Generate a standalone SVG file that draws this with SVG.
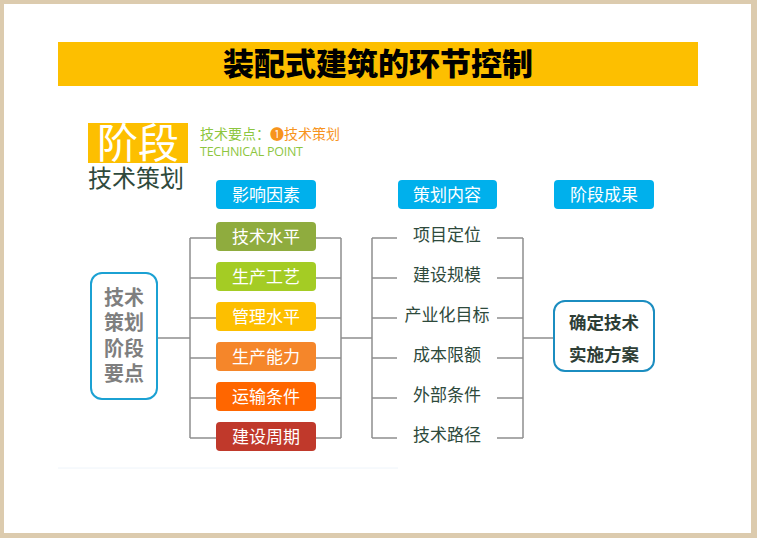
<svg xmlns="http://www.w3.org/2000/svg" width="757" height="538" viewBox="0 0 757 538">
<style>
.cjk{font-family:"Noto Sans CJK SC","Noto Sans",sans-serif;}
.hdr{fill:#00b0ec;}
.hdrt{fill:#fff;font-size:17px;text-anchor:middle;}
.ft{fill:#fff;font-size:17px;text-anchor:middle;}
.mt{fill:#2e4a3c;font-size:17px;text-anchor:middle;}
.ln{stroke:#8e8e8e;stroke-width:1.5;fill:none;}
</style>
<rect x="0" y="0" width="757" height="538" fill="#dccbae"/>
<rect x="4" y="4" width="747" height="529" fill="#ffffff"/>
<rect x="58" y="42" width="640" height="44" fill="#fdbf00"/>
<text x="378" y="75" class="cjk" font-size="31" font-weight="900" text-anchor="middle" fill="#000">装配式建筑的环节控制</text>
<rect x="88" y="123" width="100" height="40" fill="#fdbf00"/>
<text x="138" y="158" class="cjk" font-size="41" text-anchor="middle" fill="#fff">阶段</text>
<text x="136" y="187" class="cjk" font-size="24" text-anchor="middle" fill="#2f4a3c">技术策划</text>
<text x="200" y="139" class="cjk" font-size="14"><tspan fill="#8dc63f">技术要点：</tspan><tspan fill="#f7941d">❶技术策划</tspan></text>
<text x="200" y="156" font-family="'Open Sans','Noto Sans',sans-serif" font-size="12.5" fill="#8dc63f" textLength="103">TECHNICAL POINT</text>
<line x1="58" y1="468" x2="398" y2="468" stroke="#eef4fa" stroke-width="1"/>
<g id="connectors">
<path class="ln" d="M157 338H190M190 238V438M190 238H216M190 278H216M190 318H216M190 358H216M190 398H216M190 438H216"/>
<path class="ln" d="M316 238H341M316 278H341M316 318H341M316 358H341M316 398H341M316 438H341M341 238V438M341 338H372"/>
<path class="ln" d="M372 238V438M372 238H397M372 278H397M372 318H397M372 358H397M372 398H397M372 438H397"/>
<path class="ln" d="M497 238H523M497 278H523M497 318H523M497 358H523M497 398H523M497 438H523M523 238V438M523 338H553"/>
</g>
<g id="h1"><rect class="hdr" x="216" y="180" width="100" height="29" rx="4"/><text class="cjk hdrt" x="266" y="201">影响因素</text></g>
<g id="h2"><rect class="hdr" x="398" y="180" width="99" height="29" rx="4"/><text class="cjk hdrt" x="447" y="201">策划内容</text></g>
<g id="h3"><rect class="hdr" x="554" y="180" width="100" height="29" rx="4"/><text class="cjk hdrt" x="604" y="201">阶段成果</text></g>
<g id="root"><rect x="91" y="273" width="66" height="126" rx="11" fill="#fff" stroke="#1ba1d3" stroke-width="2"/>
<text class="cjk" font-size="20" font-weight="bold" fill="#7f7f7f" text-anchor="middle"><tspan x="124" y="305">技术</tspan><tspan x="124" y="330">策划</tspan><tspan x="124" y="356">阶段</tspan><tspan x="124" y="381">要点</tspan></text></g>
<g id="f1"><rect x="216" y="222" width="100" height="29" rx="4" fill="#8fac3e"/><text class="cjk ft" x="266" y="242.5">技术水平</text></g>
<g id="f2"><rect x="216" y="262" width="100" height="29" rx="4" fill="#a4cc24"/><text class="cjk ft" x="266" y="282.5">生产工艺</text></g>
<g id="f3"><rect x="216" y="302" width="100" height="29" rx="4" fill="#fdbf00"/><text class="cjk ft" x="266" y="322.5">管理水平</text></g>
<g id="f4"><rect x="216" y="342" width="100" height="29" rx="4" fill="#f5862a"/><text class="cjk ft" x="266" y="362.5">生产能力</text></g>
<g id="f5"><rect x="216" y="382" width="100" height="29" rx="4" fill="#ff6600"/><text class="cjk ft" x="266" y="402.5">运输条件</text></g>
<g id="f6"><rect x="216" y="422" width="100" height="29" rx="4" fill="#c0392b"/><text class="cjk ft" x="266" y="442.5">建设周期</text></g>
<g id="m1"><text class="cjk mt" x="447" y="241">项目定位</text></g>
<g id="m2"><text class="cjk mt" x="447" y="281">建设规模</text></g>
<g id="m3"><text class="cjk mt" x="447" y="321">产业化目标</text></g>
<g id="m4"><text class="cjk mt" x="447" y="361">成本限额</text></g>
<g id="m5"><text class="cjk mt" x="447" y="401">外部条件</text></g>
<g id="m6"><text class="cjk mt" x="447" y="441">技术路径</text></g>
<g id="result"><rect x="554" y="301" width="100" height="70" rx="11" fill="#fff" stroke="#1b8dc0" stroke-width="2"/>
<text class="cjk" font-size="17.5" font-weight="bold" fill="#2e3e36" text-anchor="middle"><tspan x="604" y="329">确定技术</tspan><tspan x="604" y="361">实施方案</tspan></text></g>
</svg>
